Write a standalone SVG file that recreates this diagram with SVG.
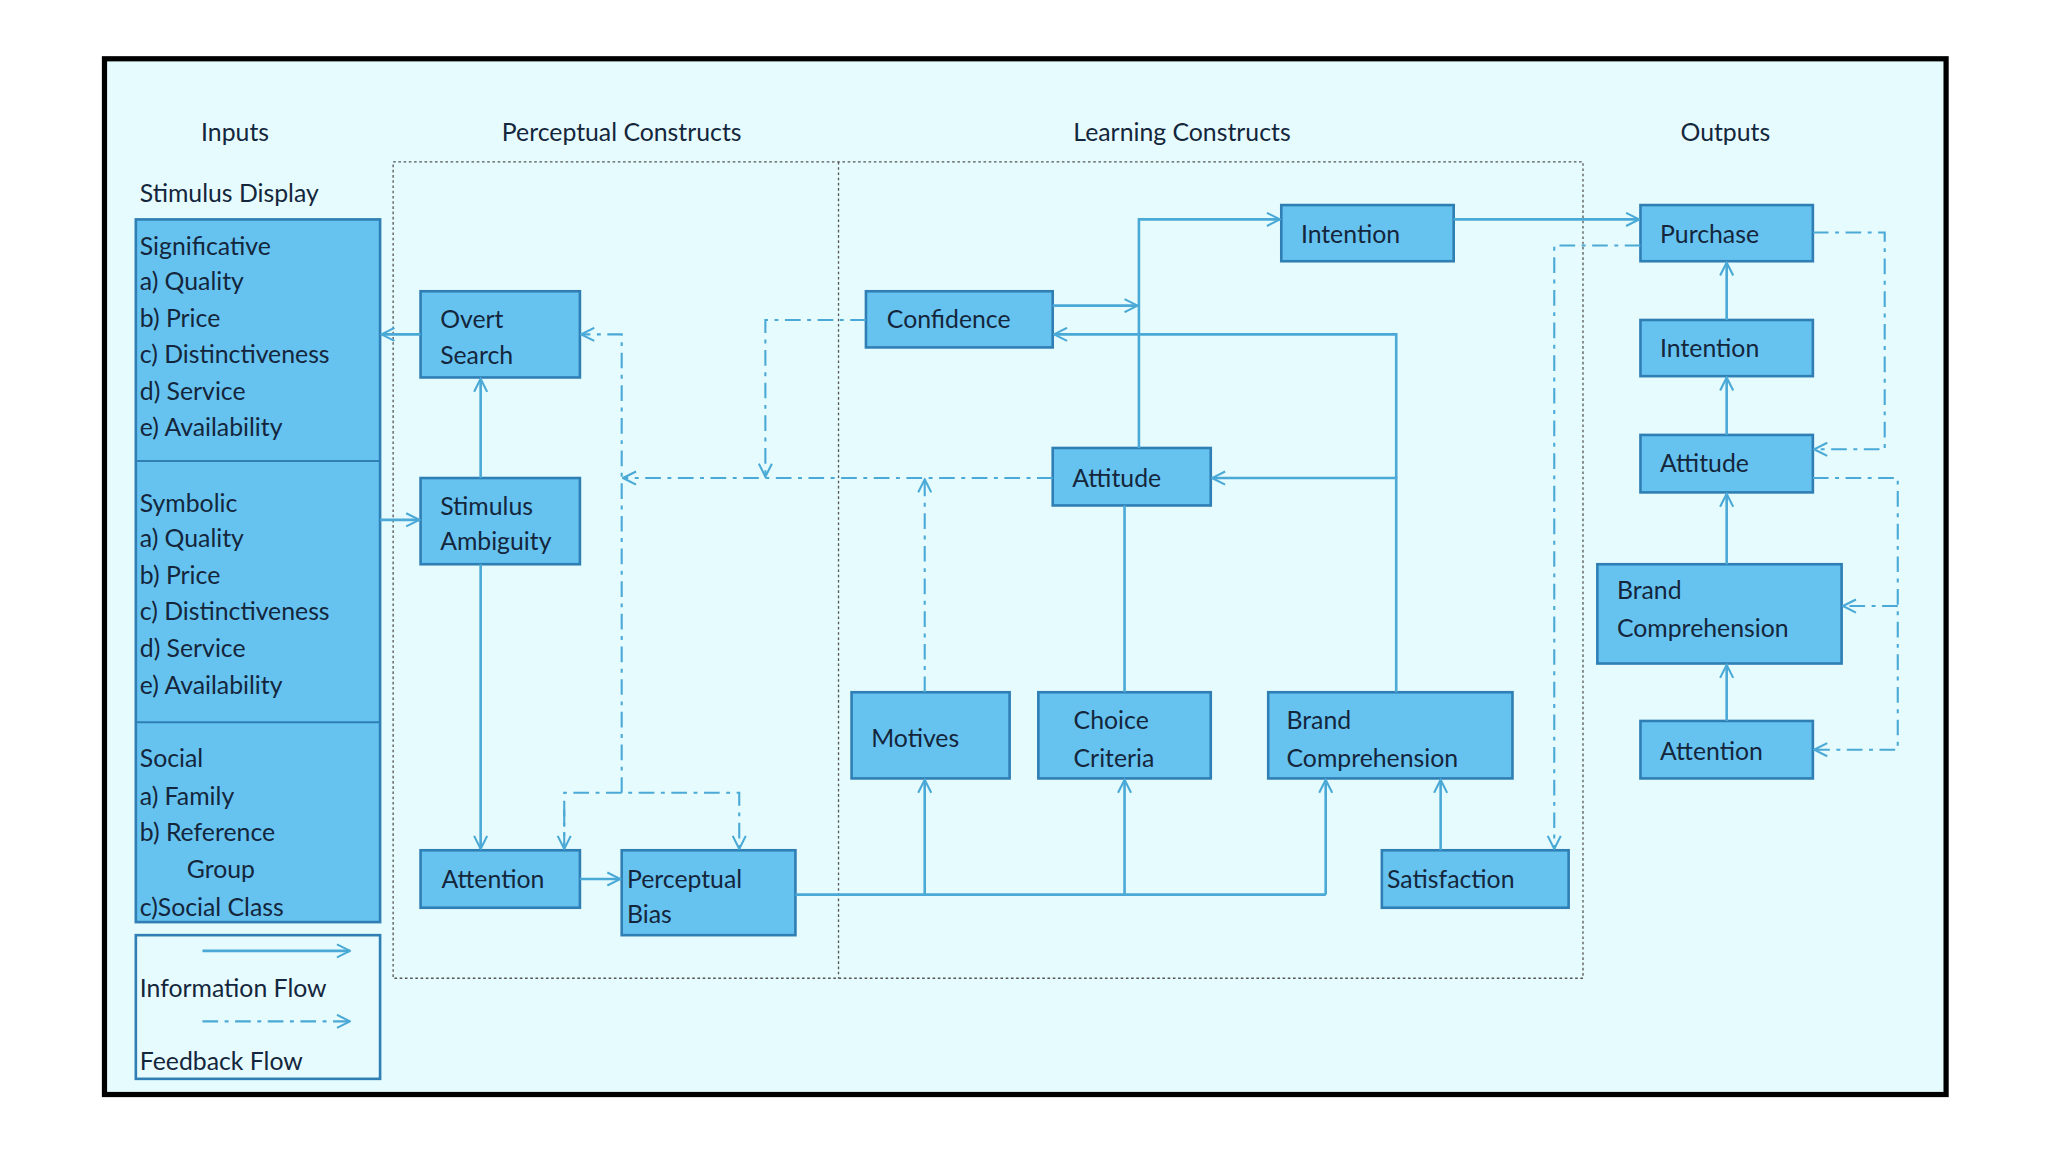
<svg xmlns="http://www.w3.org/2000/svg" width="2048" height="1152" viewBox="0 0 2048 1152">
<defs>
<style>
text{font-family:Lato,"Open Sans","Liberation Sans",sans-serif;font-size:19px;fill:#14263c}
.n{fill:#66c3f0;stroke:#2f7fb5;stroke-width:2}
.s{fill:none;stroke:#4aa9d6;stroke-width:2}
.f{fill:none;stroke:#4aa9d6;stroke-width:1.6;stroke-dasharray:12,5,3,5}
.d{fill:none;stroke:#555;stroke-width:1;stroke-dasharray:2,2}
</style>
<marker id="a" viewBox="0 0 12 12" refX="11" refY="6" markerWidth="12" markerHeight="12" markerUnits="userSpaceOnUse" orient="auto"><path d="M1,1 L11,6 L1,11" fill="none" stroke="#4aa9d6" stroke-width="1.6"/></marker>
</defs>
<rect width="2048" height="1152" fill="#fff"/>
<g transform="scale(1.3061)">
<rect x="80" y="45" width="1410" height="793" fill="#e6fbfd" stroke="#000" stroke-width="4"/>
<g id="headings">
<text x="180" y="108" text-anchor="middle">Inputs</text>
<text x="476" y="108" text-anchor="middle">Perceptual Constructs</text>
<text x="905" y="108" text-anchor="middle">Learning Constructs</text>
<text x="1321" y="108" text-anchor="middle">Outputs</text>
<text x="107" y="155">Stimulus Display</text>
</g>
<rect class="d" x="301" y="124" width="911" height="625"/>
<line class="d" x1="642" y1="124" x2="642" y2="749"/>
<g id="stimulus">
<rect class="n" x="104" y="168" width="187" height="538"/>
<line x1="104" y1="353" x2="291" y2="353" stroke="#2f7fb5" stroke-width="1.5"/>
<line x1="104" y1="553" x2="291" y2="553" stroke="#2f7fb5" stroke-width="1.5"/>
<text x="107" y="195">Significative</text><text x="107" y="222">a) Quality</text><text x="107" y="250">b) Price</text><text x="107" y="278">c) Distinctiveness</text><text x="107" y="306">d) Service</text><text x="107" y="334">e) Availability</text>
<text x="107" y="392">Symbolic</text><text x="107" y="419">a) Quality</text><text x="107" y="447">b) Price</text><text x="107" y="475">c) Distinctiveness</text><text x="107" y="503">d) Service</text><text x="107" y="531">e) Availability</text>
<text x="107" y="587">Social</text><text x="107" y="616">a) Family</text><text x="107" y="644">b) Reference</text><text x="143" y="672">Group</text><text x="107" y="701">c)Social Class</text>
</g>
<g id="legend">
<rect x="104" y="716" width="187" height="110" fill="#e6fbfd" stroke="#2f7fb5" stroke-width="2"/>
<line class="s" x1="155" y1="728" x2="268" y2="728" marker-end="url(#a)"/>
<text x="107" y="763">Information Flow</text>
<line class="f" x1="155" y1="782" x2="268" y2="782" marker-end="url(#a)"/>
<text x="107" y="819">Feedback Flow</text>
</g>
<g id="overt"><rect class="n" x="322" y="223" width="122" height="66"/><text x="337" y="251">Overt</text><text x="337" y="279">Search</text></g>
<g id="ambiguity"><rect class="n" x="322" y="366" width="122" height="66"/><text x="337" y="394">Stimulus</text><text x="337" y="421">Ambiguity</text></g>
<g id="attention1"><rect class="n" x="322" y="651" width="122" height="44"/><text x="338" y="680">Attention</text></g>
<g id="bias"><rect class="n" x="476" y="651" width="133" height="65"/><text x="480" y="680">Perceptual</text><text x="480" y="707">Bias</text></g>
<g id="confidence"><rect class="n" x="663" y="223" width="143" height="43"/><text x="679" y="251">Confidence</text></g>
<g id="intention1"><rect class="n" x="981" y="157" width="132" height="43"/><text x="996" y="186">Intention</text></g>
<g id="attitude1"><rect class="n" x="806" y="343" width="121" height="44"/><text x="821" y="373">Attitude</text></g>
<g id="motives"><rect class="n" x="652" y="530" width="121" height="66"/><text x="667" y="572">Motives</text></g>
<g id="choice"><rect class="n" x="795" y="530" width="132" height="66"/><text x="822" y="558">Choice</text><text x="822" y="587">Criteria</text></g>
<g id="brand1"><rect class="n" x="971" y="530" width="187" height="66"/><text x="985" y="558">Brand</text><text x="985" y="587">Comprehension</text></g>
<g id="satisfaction"><rect class="n" x="1058" y="651" width="143" height="44"/><text x="1062" y="680">Satisfaction</text></g>
<g id="purchase"><rect class="n" x="1256" y="157" width="132" height="43"/><text x="1271" y="186">Purchase</text></g>
<g id="intention2"><rect class="n" x="1256" y="245" width="132" height="43"/><text x="1271" y="273">Intention</text></g>
<g id="attitude2"><rect class="n" x="1256" y="333" width="132" height="44"/><text x="1271" y="361">Attitude</text></g>
<g id="brand2"><rect class="n" x="1223" y="432" width="187" height="76"/><text x="1238" y="459">Brand</text><text x="1238" y="488">Comprehension</text></g>
<g id="attention2"><rect class="n" x="1256" y="552" width="132" height="44"/><text x="1271" y="582">Attention</text></g>
<g id="connectors">
<path class="s" d="M322,256 H292" marker-end="url(#a)"/>
<path class="s" d="M291,398 H321" marker-end="url(#a)"/>
<path class="s" d="M368,366 V290" marker-end="url(#a)"/>
<path class="s" d="M368,432 V650" marker-end="url(#a)"/>
<path class="s" d="M444,673 H475" marker-end="url(#a)"/>
<path class="s" d="M609,685 H1015"/>
<path class="s" d="M708,685 V597" marker-end="url(#a)"/>
<path class="s" d="M861,685 V597" marker-end="url(#a)"/>
<path class="s" d="M1015,685 V597" marker-end="url(#a)"/>
<path class="s" d="M1103,651 V597" marker-end="url(#a)"/>
<path class="s" d="M861,530 V387"/>
<path class="s" d="M1069,530 V366 H928" marker-end="url(#a)"/>
<path class="s" d="M1069,366 V256 H807" marker-end="url(#a)"/>
<path class="s" d="M872,343 V168 H980" marker-end="url(#a)"/>
<path class="s" d="M806,234 H871" marker-end="url(#a)"/>
<path class="s" d="M1113,168 H1255" marker-end="url(#a)"/>
<path class="s" d="M1322,245 V201" marker-end="url(#a)"/>
<path class="s" d="M1322,333 V289" marker-end="url(#a)"/>
<path class="s" d="M1322,432 V378" marker-end="url(#a)"/>
<path class="s" d="M1322,552 V509" marker-end="url(#a)"/>
<path class="f" d="M1388,178 H1443 V344 H1389" marker-end="url(#a)"/>
<path class="f" d="M1388,366 H1453 V574 H1389" marker-end="url(#a)"/>
<path class="f" d="M1453,464 H1411" marker-end="url(#a)"/>
<path class="f" d="M1256,188 H1190 V650" marker-end="url(#a)"/>
<path class="f" d="M806,366 H477" marker-end="url(#a)"/>
<path class="f" d="M708,530 V367" marker-end="url(#a)"/>
<path class="f" d="M663,245 H586 V365" marker-end="url(#a)"/>
<path class="f" d="M476,607 V256 H445" marker-end="url(#a)"/>
<path class="f" d="M432,650 V607 H566 V650" marker-end="url(#a)"/>
<path class="f" d="M432,620 V650" marker-end="url(#a)"/>
</g>
</g>
</svg>
